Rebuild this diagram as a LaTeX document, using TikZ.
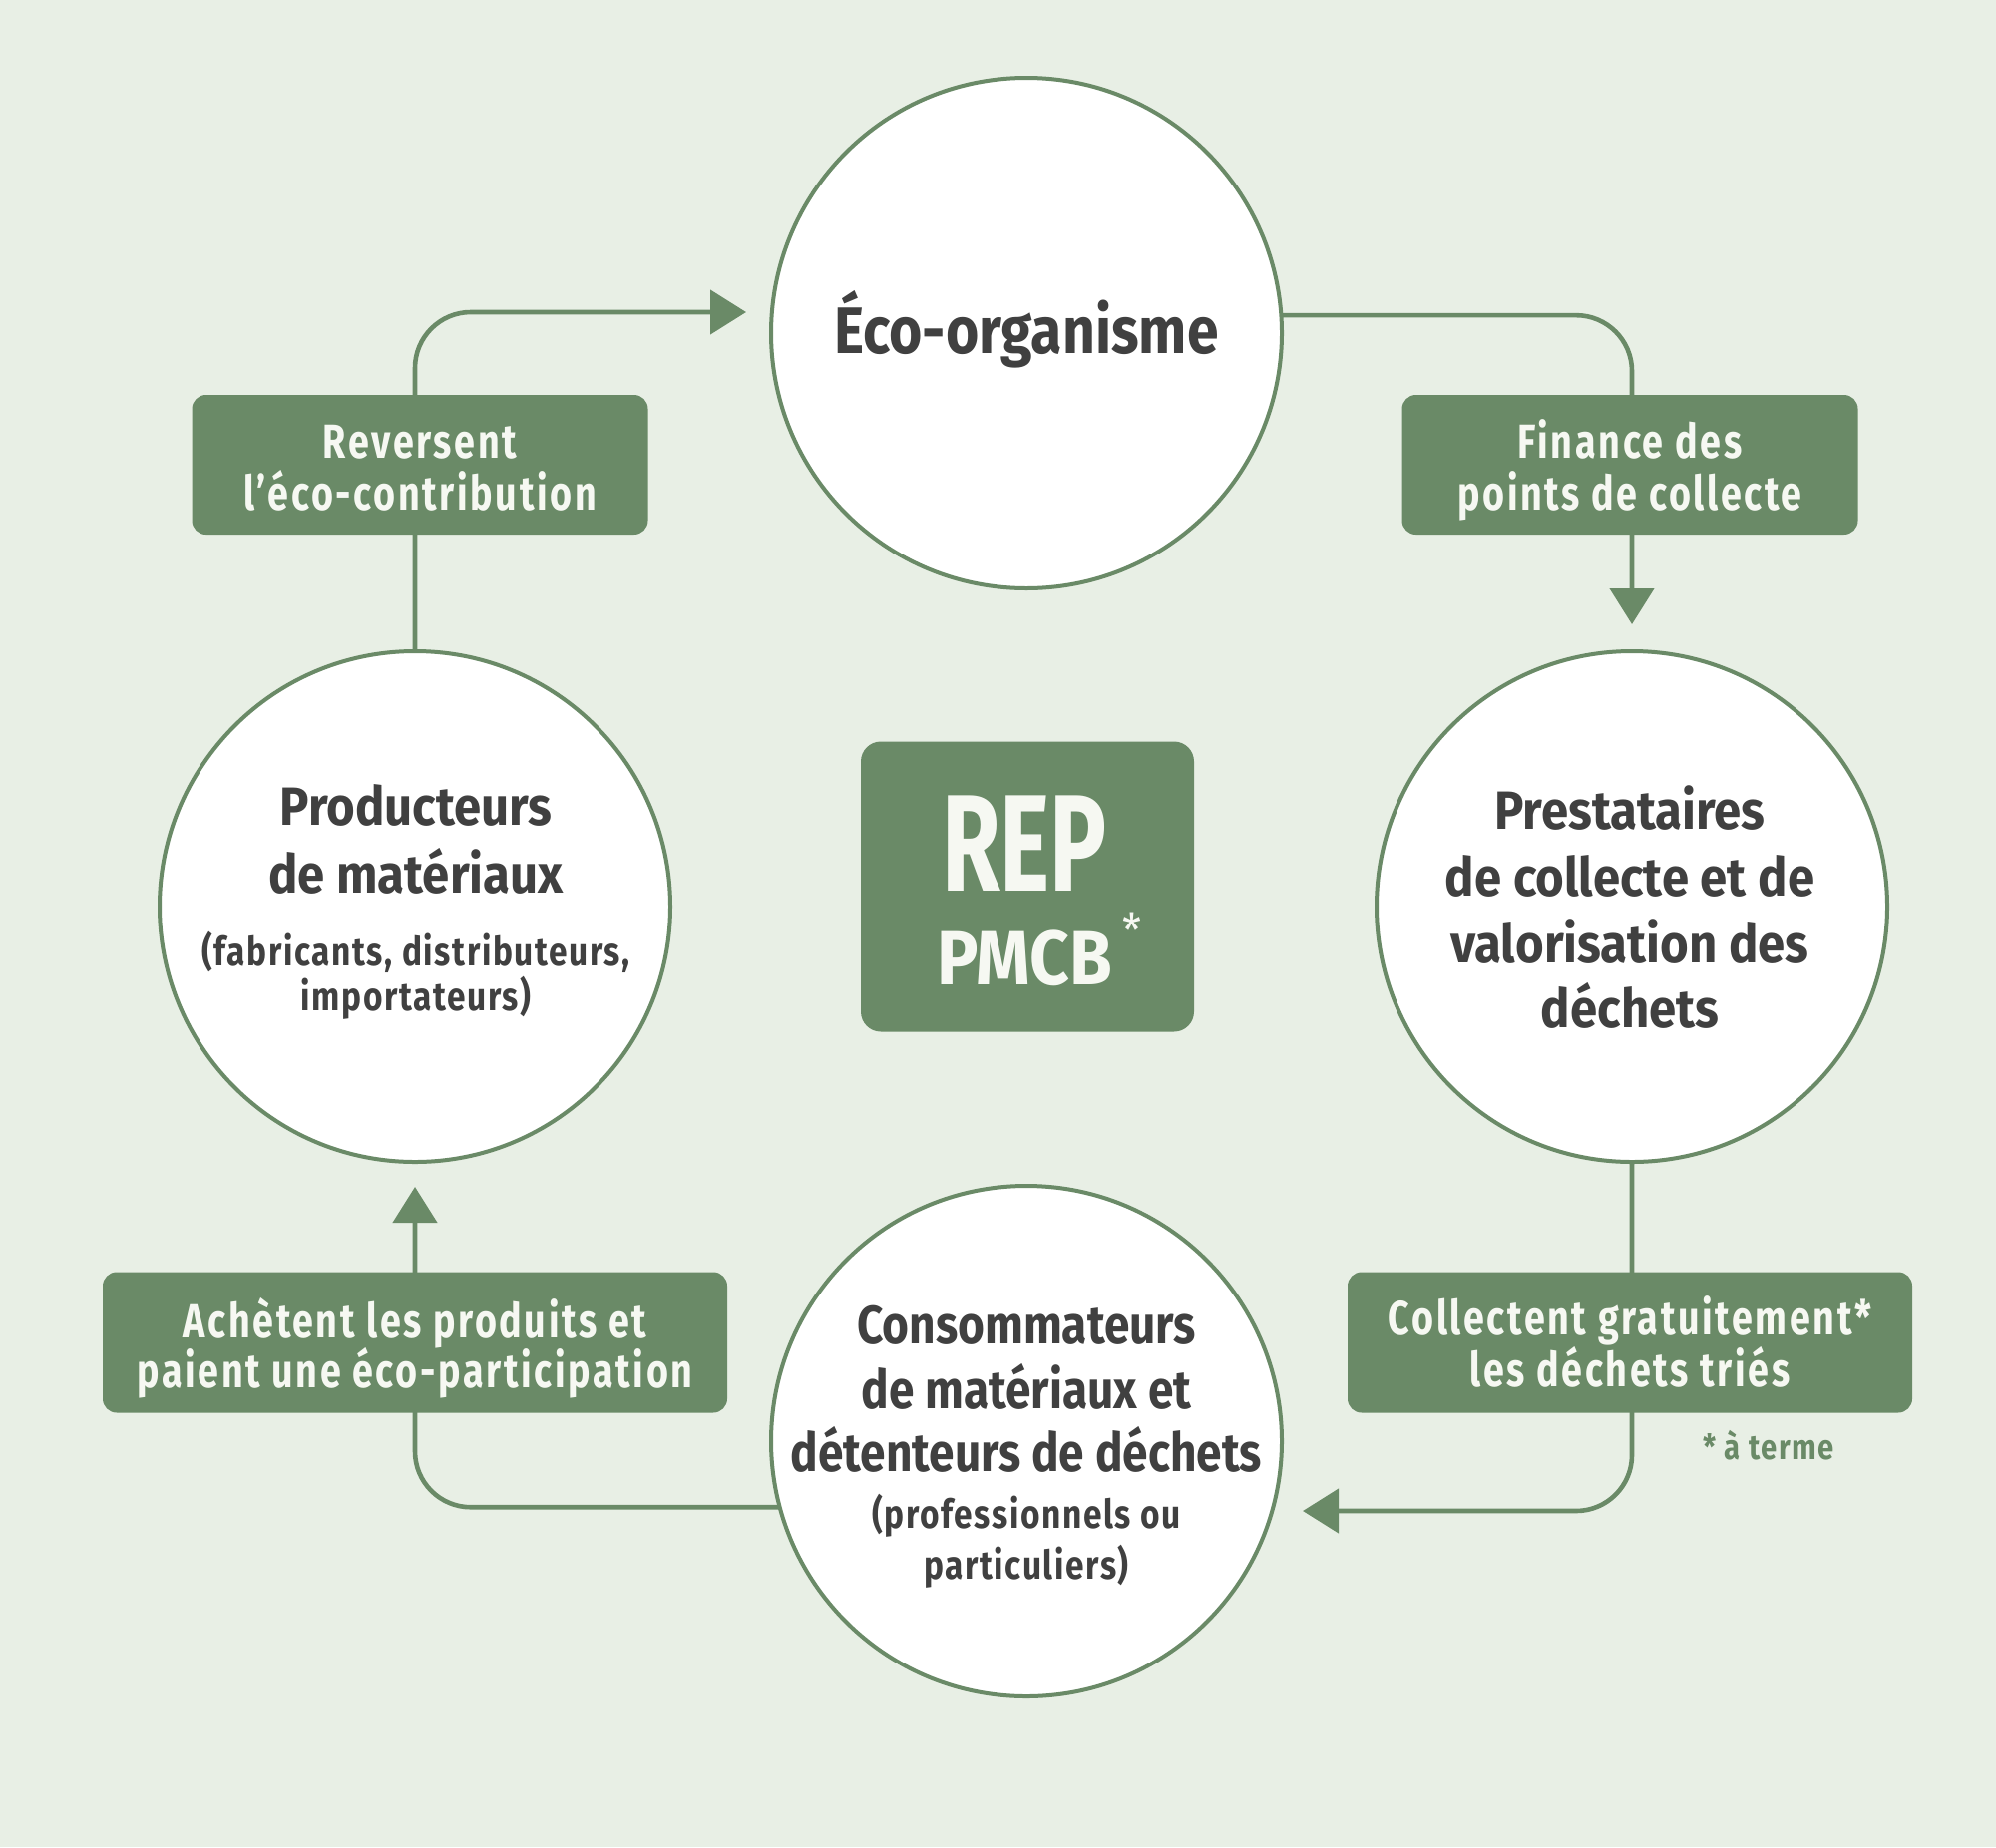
\documentclass[tikz,border=0pt]{standalone}
\usepackage{fontspec}
\usetikzlibrary{arrows.meta}
\setmainfont{Fira Sans}
\newfontfamily\FEco{Fira Sans}[FakeStretch=0.865]
\newfontfamily\FMain{Fira Sans}[FakeStretch=0.852]
\newfontfamily\FSide{Fira Sans}[FakeStretch=0.91]
\newfontfamily\FSmallT{Fira Sans}[FakeStretch=0.836,LetterSpace=4]
\newfontfamily\FBoxT{Fira Sans}[FakeStretch=0.785,LetterSpace=5.5]
\newfontfamily\FRep{Fira Sans}[FakeStretch=0.69]
\newfontfamily\FPm{Fira Sans}[FakeStretch=0.9]
\definecolor{bgc}{HTML}{E8EFE5}
\definecolor{gr}{HTML}{6A8A67}
\definecolor{txt}{HTML}{404040}
\definecolor{wt}{HTML}{F6F8F2}
\tikzset{
  circ/.style={circle, draw=gr, line width=2pt, fill=white, minimum size=256pt, inner sep=0pt, outer sep=0pt},
  conn/.style={draw=gr, line width=2.3pt, rounded corners=28pt, -{Triangle[length=18pt,width=22pt]}},
  lbox/.style={rectangle, fill=gr, rounded corners=7pt, inner sep=0pt, outer sep=0pt},
  ctext/.style={anchor=base, inner sep=0pt, text=txt, font=\FMain\bfseries\fontsize{27}{32}\selectfont},
  sidetext/.style={anchor=base, inner sep=0pt, text=txt, font=\FSide\bfseries\fontsize{27}{32}\selectfont},
  stext/.style={anchor=base, inner sep=0pt, text=txt, font=\FSmallT\bfseries\fontsize{20}{24}\selectfont},
  btext/.style={anchor=base, inner sep=0pt, text=wt, font=\FBoxT\bfseries\fontsize{24}{28}\selectfont},
}
\begin{document}
\begin{tikzpicture}[x=0.5pt,y=-0.5pt]
\useasboundingbox (0,0) rectangle (2001,1852);
\fill[bgc] (0,0) rectangle (2001,1852);

% circles
\node[circ] (T) at (1029,334) {};
\node[circ] (L) at (416,909) {};
\node[circ] (R) at (1636,909) {};
\node[circ] (B) at (1029,1445) {};

% arrow ends
\coordinate (tipT) at (748,313);
\coordinate (tipR) at (1636,626);
\coordinate (tipB) at (1306,1515);
\coordinate (tipL) at (416,1190);

% connectors
\draw[conn] (L.north) |- (tipT);
\draw[conn] (T.4.7) -| (tipR);
\draw[conn] (R.south) |- (tipB);
\draw[conn] (B.195.9) -| (tipL);

% boxes
\node[lbox, minimum width=228.5pt, minimum height=70pt] (bRev) at (421,466) {};
\node[lbox, minimum width=228.5pt, minimum height=70pt] (bFin) at (1634,466) {};
\node[lbox, minimum width=313pt, minimum height=70.5pt] (bAch) at (416,1346) {};
\node[lbox, minimum width=283pt, minimum height=70.5pt] (bCol) at (1634,1346) {};
\node[lbox, rounded corners=10pt, minimum width=167pt, minimum height=145.5pt] (bRep) at (1030,889) {};

% box texts
\node[btext] (tRev1) at (421,459) {Reversent};
\node[btext] (tRev2) at (421,511) {l’éco-contribution};
\node[btext] (tFin1) at (1634,459) {Finance des};
\node[btext] (tFin2) at (1634,511) {points de collecte};
\node[btext] (tAch1) at (416,1341) {Achètent les produits et};
\node[btext] (tAch2) at (416,1391) {paient une éco-participation};
\node[btext] (tCol1) at (1634,1338) {Collectent gratuitement*};
\node[btext] (tCol2) at (1634,1390) {les déchets triés};
\node[anchor=base, inner sep=0pt, text=gr, font=\FSmallT\bfseries\fontsize{17.5}{20}\selectfont] (terme) at (1773,1463) {* à terme};

% REP
\node[anchor=base, inner sep=0pt, text=wt, font=\FRep\bfseries\fontsize{69}{70}\selectfont] (rep1) at (1027,893) {REP};
\node[anchor=base, inner sep=0pt, text=wt, font=\FPm\bfseries\fontsize{38.5}{40}\selectfont] (rep2) at (1027,987) {PMCB};
\node[anchor=base, inner sep=0pt, text=wt, font=\FPm\fontsize{24}{26}\selectfont] (rep3) at (1135,950) {*};

% circle texts
\node[anchor=base, inner sep=0pt, text=txt, font=\FEco\bfseries\fontsize{33}{38}\selectfont] (tEco) at (1029,354) {Éco-organisme};

\node[sidetext] (tL1) at (417,827) {Producteurs};
\node[sidetext] (tL2) at (417,895) {de matériaux};
\node[stext] (tL3) at (417,968) {(fabricants, distributeurs,};
\node[stext] (tL4) at (417,1013) {importateurs)};

\node[sidetext] (tR1) at (1634,831) {Prestataires};
\node[sidetext] (tR2) at (1634,898) {de collecte et de};
\node[sidetext] (tR3) at (1634,965) {valorisation des};
\node[sidetext] (tR4) at (1634,1030) {déchets};

\node[ctext] (tB1) at (1029,1347) {Consommateurs};
\node[ctext] (tB2) at (1029,1412) {de matériaux et};
\node[ctext] (tB3) at (1029,1475) {détenteurs de déchets};
\node[stext] (tB4) at (1029,1532) {(professionnels ou};
\node[stext] (tB5) at (1029,1583) {particuliers)};
\end{tikzpicture}
\end{document}
